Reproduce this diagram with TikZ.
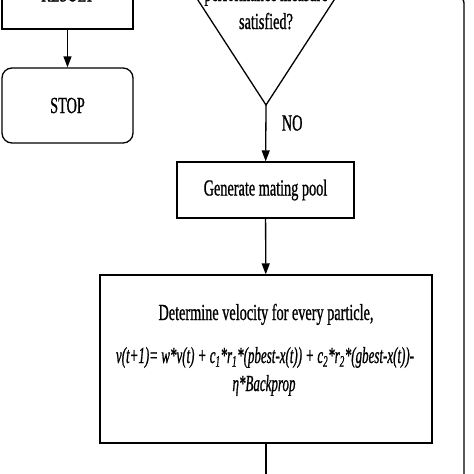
\documentclass[tikz,border=0pt]{standalone}
\usepackage{fontspec}
\setmainfont{Liberation Serif}[FakeStretch=0.62, FakeBold=0.8]
\newfontfamily\rulefont{Liberation Serif}[FakeStretch=0.565, FakeBold=0.8]
\usetikzlibrary{arrows.meta}

\tikzset{
    flowbox/.style={draw, line width=1.3pt, inner sep=0pt},
    flowline/.style={line width=1.3pt},
    flowarrow/.style={line width=1.3pt, -{Triangle[length=11pt,width=8pt]}},
    ruletext/.style={anchor=base, font=\fontsize{23}{25}\selectfont\rulefont\itshape},
}

\begin{document}
\begin{tikzpicture}[x=1pt, y=-1pt, font=\fontsize{23}{25}\selectfont]
    \useasboundingbox (0,0) rectangle (474,474);
    \clip (0,0) rectangle (474,474);

    % Result box and stop (left column)
    \node[flowbox, minimum width=131pt, minimum height=70pt] (res) at (67.5,-6) {RESULT};
    \node[flowbox, rounded corners=10pt, minimum width=131pt, minimum height=75pt] (stop) at (67.5,105.5) {STOP};
    \draw[flowarrow] (res) -- (stop);

    % Decision (only lower tip visible)
    \coordinate (dec) at (266,105);
    \draw[flowline] (146,-80) -- (dec) -- (386,-80);
    \node[align=center, anchor=base] (dectext) at (266,29) {performance measure\\[3pt]satisfied?};

    % Mating pool
    \node[flowbox, minimum width=177pt, minimum height=56pt] (mate) at (265.5,190) {Generate mating pool};
    \draw[flowarrow] (dec) -- node[pos=0.32, right=12pt] (no) {NO} (mate);

    % Velocity update
    \node[flowbox, minimum width=332pt, minimum height=168pt] (vel) at (266,359) {};
    \draw[flowarrow] (mate) -- (vel);
    \node[anchor=base] (veltitle) at (266,320) {Determine velocity for every particle,};
    \node[ruletext] (velrule) at (265,363)
        {v(t+1)= w*v(t) + c\textsubscript{1}*r\textsubscript{1}*(pbest-x(t)) + c\textsubscript{2}*r\textsubscript{2}*(gbest-x(t))-};
    \node[ruletext] (velbp) at (264,391) {η*Backprop};

    % Outgoing lines
    \coordinate (velout) at (266,480);
    \draw[flowline] (vel) -- (velout);
    \coordinate (loopbot) at (464,480);
    \coordinate (looptop) at (440,-3);
    \draw[flowline, rounded corners=6pt] (loopbot) -- (464,-3) -- (looptop);
\end{tikzpicture}
\end{document}
